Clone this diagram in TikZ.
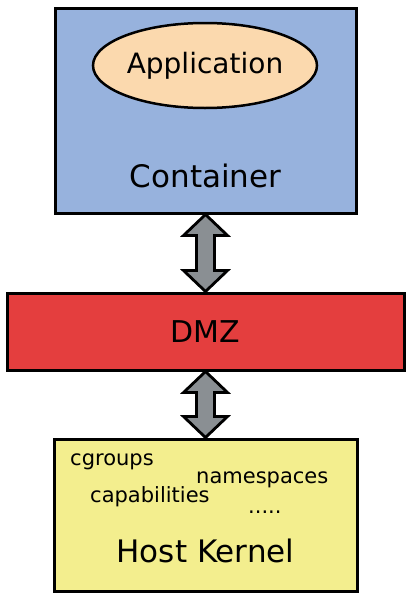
\documentclass[tikz,border=0pt]{standalone}
\usepackage{fontspec}
\setmainfont{DejaVu Sans}
\usepackage{xcolor}
\usetikzlibrary{positioning, calc, shapes.geometric}
\definecolor{ctblue}{RGB}{151, 178, 221}
\definecolor{apppeach}{RGB}{251, 217, 174}
\definecolor{dmzred}{RGB}{228, 62, 62}
\definecolor{kernyellow}{RGB}{243, 238, 142}
\definecolor{arrowgray}{RGB}{138, 143, 147}

% two-headed block arrow from one node anchor to another
\newcommand{\bigarrow}[2]{%
  \draw[blockarrow] (#1) -- ++(22,21) -- ++(-13,0) -- ($(#2)+(9,-21)$) -- ++(13,0)
    -- (#2) -- ++(-22,-21) -- ++(13,0) -- ($(#1)+(-9,21)$) -- ++(-13,0) -- cycle;}

\begin{document}
\begin{tikzpicture}[x=1pt, y=-1pt]
\tikzset{
  layer/.style={draw, line width=3pt, minimum width=#1, inner sep=0pt},
  blockarrow/.style={draw, line width=2.8pt, fill=arrowgray, line join=miter},
  smalltext/.style={anchor=base west, font=\fontsize{21}{21}\selectfont, inner sep=0pt}
}
\useasboundingbox (0,0) rectangle (413,600);

% container with the application
\node[layer=301pt, minimum height=205pt, fill=ctblue] (container) at (205.5,110.5) {};
\node[draw, ellipse, line width=2.5pt, fill=apppeach, minimum width=224pt, minimum height=85pt,
      inner sep=0pt, font=\fontsize{28}{28}\selectfont] (app) at (205,65.5) {Application};
\node[anchor=base, inner sep=0pt, font=\fontsize{31}{31}\selectfont] (contlabel) at (205.5,187) {Container};

% DMZ
\node[layer=397pt, minimum height=77pt, fill=dmzred, font=\fontsize{30}{30}\selectfont] (dmz) at (205.5,331.5) {DMZ};

% host kernel
\node[layer=303pt, minimum height=152pt, fill=kernyellow] (kernel) at (205.5,515) {};
\node[smalltext] (cgroups) at (70,465) {cgroups};
\node[smalltext] (namespaces) at (196,483) {namespaces};
\node[smalltext] (caps) at (90,502) {capabilities};
\node[smalltext] (dots) at (248,513) {.....};
\node[anchor=base, inner sep=0pt, font=\fontsize{31}{31}\selectfont] (kernlabel) at (205.5,562) {Host Kernel};

% arrows between the layers
\bigarrow{container.south}{dmz.north}
\bigarrow{dmz.south}{kernel.north}
\end{tikzpicture}
\end{document}
